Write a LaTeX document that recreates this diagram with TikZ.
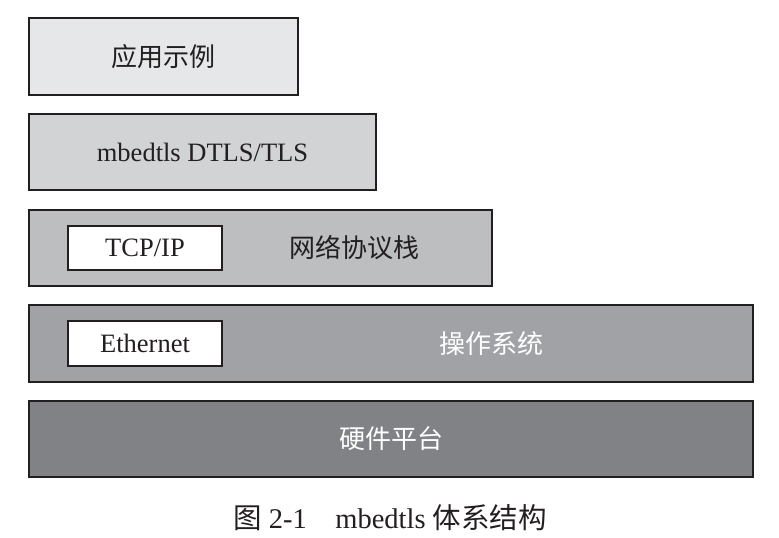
\documentclass[tikz,border=0pt]{standalone}
\usepackage{fontspec}
\setmainfont{Liberation Serif}
\newfontfamily\cjk{Noto Sans CJK SC}
\definecolor{c1}{HTML}{E6E7E8}
\definecolor{c2}{HTML}{D1D3D4}
\definecolor{c3}{HTML}{BCBEC0}
\definecolor{c4}{HTML}{A0A2A5}
\definecolor{c5}{HTML}{808285}
\definecolor{ink}{HTML}{231F20}
\begin{document}
\begin{tikzpicture}[x=1pt,y=-1pt,
  layer/.style={draw=ink,line width=1.3pt},
  inner/.style={draw=ink,line width=1.3pt,fill=white},
  lbl/.style={font=\fontsize{26.5}{30}\selectfont,text=ink},
  clbl/.style={font=\cjk\fontsize{26}{30}\selectfont,text=ink},
  wlbl/.style={font=\cjk\fontsize{26}{30}\selectfont,text=white}]
\useasboundingbox (0,0) rectangle (779,538);
\draw[layer,fill=c1] (29,18) rectangle (298,95) node[pos=.5,clbl] (app) {应用示例};
\draw[layer,fill=c2] (29,114) rectangle (376,190) node[pos=.5,lbl] (tls) {mbedtls DTLS/TLS};
\draw[layer,fill=c3] (29,210) rectangle (492,286);
\draw[inner] (68,226) rectangle (222,270) node[pos=.5,lbl] (tcp) {TCP/IP};
\node[clbl] (net) at (354,248) {网络协议栈};
\draw[layer,fill=c4] (29,305) rectangle (753,382);
\draw[inner] (68,321) rectangle (222,366) node[pos=.5,lbl] (eth) {Ethernet};
\node[wlbl] (os) at (491,344) {操作系统};
\draw[layer,fill=c5] (29,401) rectangle (753,477);
\node[wlbl] (hw) at (391,439) {硬件平台};
\node[font=\fontsize{28.5}{32}\selectfont,text=ink] (cap) at (390,518) {{\cjk 图} 2-1\hspace{1em}mbedtls {\cjk 体系结构}};
\end{tikzpicture}
\end{document}
